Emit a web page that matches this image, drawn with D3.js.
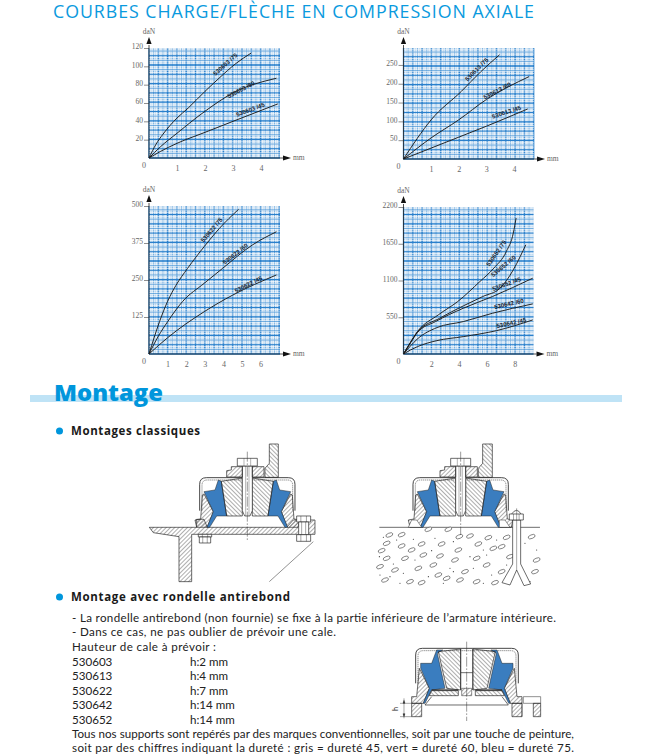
<!DOCTYPE html>
<html>
<head>
<meta charset="utf-8">
<script src="https://cdn.jsdelivr.net/npm/d3@7"></script>
<style>
  html, body { margin: 0; padding: 0; background: #fff; }
  svg { display: block; }
  .body { font-family: Lato, "Open Sans", sans-serif; font-size: 11.6px; fill: #222; }
  .head { font-family: "Open Sans", sans-serif; font-size: 11.5px; font-weight: 700; fill: #1a1a1a; }
  .tick text, .unit { font-family: "Liberation Serif", serif; fill: #666; }
</style>
</head>
<body>
<div id="page"></div>
<script>
// chart 1 : 530603
const xTicks1 = [1, 2, 3, 4]
const yTicks1 = [20, 40, 60, 80, 100, 120]
const curve1a = [[0, 0], [0.25, 15], [0.5, 26], [1, 43.6], [1.4, 54.5], [2, 72.7], [2.5, 87], [3.1, 103], [3.65, 114.5]]
const curve1b = [[0, 0], [0.4, 12], [1, 27], [2, 51], [3, 71], [4.55, 87]]
const curve1c = [[0, 0], [0.4, 7], [1, 16], [2, 28], [3, 40], [4.6, 59]]
const names1 = ['530603 /75', '530603 /60', '530603 /45']
const labels1 = [[2.79, 100, -42], [3.33, 72, -28], [3.65, 50, -20]]

// chart 2 : 530613
const xTicks2 = [1, 2, 3, 4]
const yTicks2 = [50, 100, 150, 200, 250]
const curve2a = [[0, 0], [0.5, 55], [1, 104], [2.1, 180], [2.8, 232], [3.48, 277]]
const curve2b = [[0, 0], [1, 56], [2, 104], [3, 158], [4.55, 219]]
const curve2c = [[0, 0], [1, 29], [2, 58], [3, 87], [4.5, 133]]
const names2 = ['530613 /75', '530613 /60', '530613 /45']
const labels2 = [[2.72, 233, -45], [3.44, 175, -27], [3.76, 118, -18]]

// chart 3 : 530622
const xTicks3 = [1, 2, 3, 4, 5, 6]
const yTicks3 = [125, 250, 375, 500]
const curve3a = [[0, 0], [0.57, 110], [1, 178], [1.45, 232], [2.07, 289], [2.97, 363], [3.78, 424], [4.82, 489]]
const curve3b = [[0, 0], [0.5, 60], [1, 109], [1.8, 177], [2.97, 239], [3.95, 289], [5.55, 368], [6.85, 413]]
const curve3c = [[0, 0], [1, 55], [2.97, 143], [4.5, 199], [6.85, 267]]
const names3 = ['530622 /75', '530622 /60', '530622 /45']
const labels3 = [[3.48, 413, -50], [4.73, 331, -38], [5.41, 227, -27]]

// chart 4 : 530652 / 530642
const xTicks4 = [2, 4, 6, 8]
const yTicks4 = [550, 1100, 1650, 2200]
const curve4a = [[0, 0], [0.5, 175], [1, 335], [2.5, 585], [3.9, 785], [5.5, 1085], [6.5, 1285], [7.4, 1535], [7.9, 1810], [8.1, 2035]]
const curve4b = [[0, 0], [0.5, 170], [1, 330], [2.6, 535], [4.3, 720], [5.7, 860], [6.95, 985], [7.9, 1260], [8.4, 1460], [8.8, 1635]]
const curve4c = [[0, 0], [0.5, 165], [1, 320], [2.3, 485], [4.3, 685], [6.4, 860], [9.3, 1135]]
const curve4d = [[0, 0], [0.5, 120], [1, 225], [2.4, 395], [4.3, 485], [6.4, 610], [9.3, 750]]
const curve4e = [[0, 0], [0.5, 60], [1, 110], [2.4, 200], [4.3, 260], [6.7, 350], [9.3, 510]]
const names4 = ['530652 /75', '530652 /60', '530652 /45', '530642 /60', '530642 /45']
const labels4 = [[6.83, 1485, -55], [7.31, 1285, -40], [7.48, 1010, -20], [7.63, 710, -13], [7.8, 425, -12]]

// texts
const partNumbers = ['530603', '530613', '530622', '530642', '530652']
const shimHeights = ['h:2 mm', 'h:4 mm', 'h:7 mm', 'h:14 mm', 'h:14 mm']

const svg = d3.select('#page').append('svg').attr('width', 650).attr('height', 754)
const defs = svg.append('defs')

function hatch(id, angle) {
  defs.append('pattern').attr('id', id).attr('patternUnits', 'userSpaceOnUse')
    .attr('width', 9).attr('height', 9).attr('patternTransform', `rotate(${angle})`)
    .append('line').attr('x1', 0).attr('x2', 0).attr('y1', 0).attr('y2', 9)
    .attr('stroke', '#333').attr('stroke-width', 2.4)
}
hatch('hatchL', 45)
hatch('hatchR', -45)

function drawChart(opt) {
  const w = opt.x1 - opt.x0, h = opt.y1 - opt.y0
  const x = d3.scaleLinear().domain([0, w / opt.pxPerUnit]).range([opt.x0, opt.x1])
  const y = d3.scaleLinear().domain(opt.yDomain).range([opt.y1, opt.y0])
  const g = svg.append('g')

  // graph paper
  g.append('rect').attr('x', opt.x0).attr('y', opt.y0).attr('width', w).attr('height', h).attr('fill', '#b2d2ee')
  const paper = g.append('g')
  const rule = (vertical, d, color, width, op) => {
    const l = paper.append('line').attr('stroke', color).attr('stroke-width', width).attr('opacity', op)
    if (vertical) l.attr('x1', opt.x0 + d).attr('x2', opt.x0 + d).attr('y1', opt.y0).attr('y2', opt.y1)
    else l.attr('y1', opt.y1 - d).attr('y2', opt.y1 - d).attr('x1', opt.x0).attr('x2', opt.x1)
  }
  ;[[true, w], [false, h]].forEach(([vertical, size]) => {
    d3.range(0, size, 1.86).forEach((d, i) => { if (i % 5) rule(vertical, d, '#fff', 0.7, 0.85) })
    d3.range(0, size, 4.65).forEach((d, i) => { if (i % 2) rule(vertical, d, '#5a9fdb', 0.8, 1) })
    d3.range(0, size, 9.3).forEach((d, i) => rule(vertical, d, '#2a80cc', i % 2 ? 1 : 1.3, 1))
  })

  // axes
  const ax = g.append('g').attr('transform', `translate(0,${opt.y1})`)
    .call(d3.axisBottom(x).tickValues(opt.xTicks).tickSize(0).tickPadding(7).tickFormat(d3.format('d')))
  const ay = g.append('g').attr('transform', `translate(${opt.x0},0)`)
    .call(d3.axisLeft(y).tickValues(opt.yTicks).tickSize(5).tickPadding(1).tickFormat(d3.format('d')))
  ax.select('.domain').remove()
  ay.select('.domain').remove()
  ax.selectAll('text').attr('font-size', 8).attr('font-family', null)
  ay.selectAll('text').attr('font-size', 7.5).attr('font-family', null).attr('dy', '0.1em')
  ay.selectAll('line').attr('stroke', '#444').attr('stroke-width', 0.6)

  g.append('line').attr('x1', opt.x0).attr('x2', opt.x0).attr('y1', opt.y1).attr('y2', opt.y0 - 3).attr('stroke', '#222').attr('stroke-width', 0.8)
  g.append('line').attr('x1', opt.x0).attr('x2', opt.x1 + 3).attr('y1', opt.y1).attr('y2', opt.y1).attr('stroke', '#222').attr('stroke-width', 0.8)
  g.append('path').attr('fill', '#111')
    .attr('d', `M${opt.x0},${opt.y0 - 11}l2.6,7h-5.2z`)
  g.append('path').attr('fill', '#111')
    .attr('d', `M${opt.x1 + 11},${opt.y1}l-8,-2.4v4.8z`)
  g.append('text').attr('class', 'unit').attr('x', opt.x0).attr('y', opt.y0 - 14).attr('text-anchor', 'middle').attr('font-size', 7.5).text('daN')
  g.append('text').attr('class', 'unit').attr('x', opt.x1 + 13).attr('y', opt.y1 + 1.5).attr('font-size', 7.5).text('mm')
  g.append('text').attr('class', 'unit').attr('x', opt.x0 - 5).attr('y', opt.y1 + 10).attr('text-anchor', 'middle').attr('font-size', 8).text('0')

  // curves
  const line = d3.line().x(d => x(d[0])).y(d => y(d[1])).curve(d3.curveMonotoneX)
  opt.curves.forEach(c => {
    g.append('path').datum(c).attr('fill', 'none').attr('stroke', '#1c1c1c').attr('stroke-width', 0.95).attr('d', line)
  })
  opt.labels.forEach((l, i) => {
    g.append('text').attr('transform', `translate(${x(l[0])},${y(l[1])}) rotate(${l[2]})`)
      .attr('text-anchor', 'middle').attr('dy', '-0.1em').attr('font-family', 'Liberation Sans, sans-serif').attr('font-size', 6)
      .attr('font-weight', 700).attr('fill', '#16222e').text(opt.names[i])
  })
}

drawChart({ x0: 149, x1: 280, y0: 48, y1: 158, pxPerUnit: 28, yDomain: [0, 120], xTicks: xTicks1, yTicks: yTicks1, curves: [curve1a, curve1b, curve1c], names: names1, labels: labels1 })
drawChart({ x0: 403.5, x1: 534, y0: 48, y1: 159, pxPerUnit: 27.6, yDomain: [0, 295], xTicks: xTicks2, yTicks: yTicks2, curves: [curve2a, curve2b, curve2c], names: names2, labels: labels2 })
drawChart({ x0: 149, x1: 280, y0: 206, y1: 354, pxPerUnit: 18.6, yDomain: [0, 500], xTicks: xTicks3, yTicks: yTicks3, curves: [curve3a, curve3b, curve3c], names: names3, labels: labels3 })
drawChart({ x0: 403.5, x1: 533.5, y0: 207, y1: 354, pxPerUnit: 13.9, yDomain: [0, 2200], xTicks: xTicks4, yTicks: yTicks4, curves: [curve4a, curve4b, curve4c, curve4d, curve4e], names: names4, labels: labels4 })

// page texts
svg.append('text').attr('x', 53).attr('y', 17.5).attr('font-family', '"Open Sans", sans-serif').attr('font-size', 17.8)
  .attr('fill', '#0a9ade').attr('textLength', 481).attr('lengthAdjust', 'spacing').text('COURBES CHARGE/FLÈCHE EN COMPRESSION AXIALE')
svg.append('rect').attr('x', 30).attr('y', 395).attr('width', 592).attr('height', 7).attr('fill', '#bfe3f6')
svg.append('text').attr('x', 54).attr('y', 401).attr('font-family', '"Open Sans", sans-serif').attr('font-weight', 800).attr('font-size', 22.5)
  .attr('fill', '#0096dc').attr('textLength', 109).attr('lengthAdjust', 'spacingAndGlyphs').text('Montage')

function bullet(y, txt, len) {
  svg.append('circle').attr('cx', 59.5).attr('cy', y - 4).attr('r', 3.5).attr('fill', '#0096dc')
  svg.append('text').attr('class', 'head').attr('x', 71).attr('y', y).attr('textLength', len).text(txt)
}
bullet(435, 'Montages classiques', 129)
bullet(601, 'Montage avec rondelle antirebond', 219)

function body(x, y, txt, len) {
  const t = svg.append('text').attr('class', 'body').attr('x', x).attr('y', y).text(txt)
  if (len) t.attr('textLength', len)
}
body(72, 622, '- La rondelle antirebond (non fournie) se fixe à la partie inférieure de l’armature intérieure.', 484)
body(72, 636, '- Dans ce cas, ne pas oublier de prévoir une cale.', 264)
body(72, 651, 'Hauteur de cale à prévoir :', 144)
const tableY = [666, 680, 695, 709, 724]
partNumbers.forEach((p, i) => {
  body(72, tableY[i], p)
  body(190, tableY[i], shimHeights[i])
})
body(72, 738, 'Tous nos supports sont repérés par des marques conventionnelles, soit par une touche de peinture,', 502)
body(72, 752, 'soit par des chiffres indiquant la dureté : gris = dureté 45, vert = dureté 60, bleu = dureté 75.', 502)

// drawings, coordinates in 1/3 px
function part(g, d, fill, sw) {
  return g.append('path').attr('d', d).attr('fill', fill).attr('stroke', '#222').attr('stroke-width', sw || 2).attr('stroke-linejoin', 'round')
}
function centreLine(g, x, y0, y1) {
  g.append('line').attr('x1', x).attr('x2', x).attr('y1', y0).attr('y2', y1).attr('stroke', '#333').attr('stroke-width', 1.5).attr('stroke-dasharray', '30 5 5 5')
}
function cover(g, w, top, bottom) {
  part(g, `M${-w},${bottom}V${top + 20}Q${-w},${top} ${-w + 20},${top}H${w - 20}Q${w},${top} ${w},${top + 20}V${bottom}`, 'none', 2.5)
  part(g, `M${-w + 7},${bottom}V${top + 23}Q${-w + 7},${top + 7} ${-w + 23},${top + 7}H${w - 23}Q${w - 7},${top + 7} ${w - 7},${top + 23}V${bottom}`, 'none', 1.5).attr('stroke-dasharray', '4 2')
}
function mount(g, cx, base) {
  const m = g.append('g').attr('transform', `translate(${cx},${base})`)
  cover(m, 143, -149, -50)
  ;[[1, 'hatchR', 'hatchL'], [-1, 'hatchL', 'hatchR']].forEach(([s, h1, h2]) => {
    const side = m.append('g').attr('transform', `scale(${s},1)`)
    part(side, 'M-130,-100L-102,-47L-120,0H-152L-157,-22L-140,-25L-135,-97Z', `url(#${h2})`)
    part(side, 'M-87,-142L-78,-138L-62,-34H-92L-113,0H-121L-102,-47L-130,-107L-97,-112Z', '#3a7dbf', 1.5)
    part(side, 'M-78,-138L-15,-148V-34H-62Z', `url(#${h1})`)
  })
  part(m, 'M-15,-184H15V-50L8,-34H-8L-15,-50Z', '#fff')
  part(m, 'M-5,-184V-34M5,-184V-34', 'none', 1)
  part(m, 'M-30,-207H30V-184H-30Z', '#fff')
  part(m, 'M-10,-207V-184M10,-207V-184', 'none', 1)
  part(m, 'M-62,-151V-170L-48,-172V-182H-15V-151Z', 'url(#hatchL)')
  part(m, 'M15,-151V-182H50V-151Z', 'url(#hatchL)')
}
function boltHead(g, x, y, w, h) {
  part(g, `M${x},${y}h${w}v${h}h${-w}z`, '#fff')
  part(g, `M${x + w * 0.3},${y}v${h}M${x + w * 0.7},${y}v${h}`, 'none', 1.2)
}

// montage sur corniere
const left = svg.append('g').attr('transform', 'translate(130,440) scale(0.3333)')
part(left, 'M418,12H445V112H405V85L418,70Z', 'url(#hatchR)')
part(left, 'M58,262H200V238L222,238L232,262H470L490,240H555V283H185V425H147V290L70,278Z', 'url(#hatchL)')
mount(left, 352, 262)
boltHead(left, 205, 283, 40, 8)
boltHead(left, 208, 291, 34, 18)
boltHead(left, 500, 228, 42, 18)
boltHead(left, 506, 246, 30, 38)
boltHead(left, 500, 284, 42, 20)
part(left, 'M550,305L418,425', 'none', 1.5)
centreLine(left, 352, 35, 302)

// montage sur beton
const pebbles = [[58, 285], [95, 284], [175, 268], [235, 268], [300, 288], [355, 293], [410, 292], [485, 290], [50, 310], [95, 318], [155, 312], [215, 312], [268, 290], [325, 312], [395, 320], [35, 332], [125, 330], [160, 345], [210, 348], [265, 330], [320, 355], [370, 325], [420, 350], [50, 355], [105, 355], [190, 375], [255, 360], [350, 375], [500, 360], [30, 380], [75, 390], [145, 385], [230, 415], [285, 395], [395, 395], [495, 395], [45, 420], [120, 425], [155, 428], [205, 405], [270, 420], [320, 425], [375, 428]]
const specks = [[40, 292], [80, 300], [130, 298], [195, 295], [250, 305], [340, 330], [380, 300], [465, 310], [28, 350], [70, 372], [135, 360], [185, 332], [240, 385], [300, 350], [350, 345], [410, 375], [500, 330], [30, 405], [60, 410], [100, 400], [175, 410], [250, 395], [310, 385], [365, 405], [480, 425], [90, 430], [220, 430], [340, 430]]
const right = svg.append('g').attr('transform', 'translate(370,440) scale(0.3333)')
part(right, 'M338,12H367V112H325V85L338,70Z', 'url(#hatchR)')
part(right, 'M28,262H510', 'none', 2)
right.selectAll('.pebble').data(pebbles).join('ellipse').attr('class', 'pebble')
  .attr('cx', d => d[0]).attr('cy', d => d[1]).attr('rx', 11).attr('ry', 5.5)
  .attr('transform', d => `rotate(-22,${d[0]},${d[1]})`).attr('fill', '#fff').attr('stroke', '#333').attr('stroke-width', 1.6)
right.selectAll('.speck').data(specks).join('circle').attr('class', 'speck')
  .attr('cx', d => d[0]).attr('cy', d => d[1]).attr('r', 1.6).attr('fill', '#222')
mount(right, 272, 262)
part(right, 'M115,262L125,240L140,240L155,262Z', '#fff', 1.5)
part(right, 'M388,262V240H405L420,262Z', '#fff', 1.5)
part(right, 'M428,240H452V372L482,432L462,437L440,390L420,435L396,428L428,372Z', '#fff')
boltHead(right, 418, 222, 42, 18)
part(right, 'M425,222Q440,200 453,222', 'none', 2)
part(right, 'M440,205V390', 'none', 1.2)
centreLine(right, 272, 35, 285)

// montage avec rondelle
const bottom = svg.append('g').attr('transform', 'translate(390,635) scale(0.3333)')
cover(bottom.append('g').attr('transform', 'translate(231,0)'), 154, 40, 145)
;[[0, 'hatchR', 'hatchL'], [1, 'hatchL', 'hatchR']].forEach(([mirror, h1, h2]) => {
  const side = bottom.append('g').attr('transform', mirror ? 'translate(461,0) scale(-1,1)' : null)
  part(side, 'M88,100L118,160L100,205H65V185H80Z', `url(#${h2})`)
  part(side, 'M65,205H95V245H65Z', `url(#${h2})`)
  part(side, 'M140,45H158L142,55L165,160L125,165L105,205H100L118,160L92,100V85H125Z', '#3a7dbf', 1.5)
  part(side, 'M145,50L212,42V165L170,160Z', `url(#${h1})`)
  part(side, 'M125,167H205V182H118Z', `url(#${h1})`)
  part(side, 'M125,165H205', 'none', 3.5)
})
part(bottom, 'M400,185H452V205H400Z', '#fff', 1.5)
part(bottom, 'M430,205H452V245H430Z', 'url(#hatchL)')
part(bottom, 'M396,205V245', 'none', 1.2)
part(bottom, 'M105,210L125,185M355,210L336,185M105,210H355', 'none', 2)
part(bottom, 'M212,42V165M248,42V165M212,113H248', 'none', 2)
part(bottom, 'M215,182V160H245V182Z', 'url(#hatchL)', 1.5)
centreLine(bottom, 230, 20, 258)
part(bottom, 'M30,205H65M30,245H65M42,190V250', 'none', 1.2)
part(bottom, 'M42,196l-3,9h6zM42,245l-3,-9h6z', '#222', 1)
bottom.append('text').attr('transform', 'translate(24,222) rotate(-90)').attr('text-anchor', 'middle').attr('font-size', 22).attr('font-family', 'Lato, sans-serif').attr('fill', '#222').text('h')
</script>
</body>
</html>
